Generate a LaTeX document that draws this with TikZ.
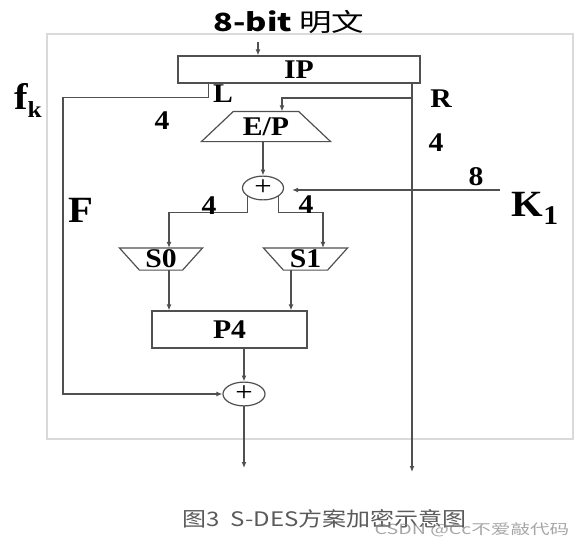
\documentclass[tikz,border=0pt]{standalone}
\usepackage{fontspec}
\setmainfont{Liberation Serif}[FakeStretch=1.1]
\newfontfamily\headfont{Noto Sans CJK SC}[FakeStretch=1.3]
\newfontfamily\capfont{Noto Sans CJK SC}[FakeStretch=1.2]
\newfontfamily\markfont{Noto Sans CJK SC}[FakeStretch=1.4]
\usetikzlibrary{arrows.meta,shapes.geometric}

\definecolor{linegray}{HTML}{505050}
\definecolor{framegray}{HTML}{DADADA}
\definecolor{capgray}{HTML}{5A5A5A}

\begin{document}
\begin{tikzpicture}[x=1pt, y=-1pt, line width=1.2pt, color=linegray,
	arr/.style={-{Latex[length=6pt,width=5pt]}},
	lab/.style={font=\fontsize{27}{27}\selectfont\bfseries, text=black, inner sep=0pt},
	biglab/.style={font=\fontsize{37}{37}\selectfont\bfseries, text=black, inner sep=0pt},
	xorop/.style={ellipse, draw, minimum width=41pt, minimum height=21pt, inner sep=0pt, text=black, font=\fontsize{28}{28}\selectfont}]
	\useasboundingbox (0,0) rectangle (582,546);

	%outer frame of f_k
	\draw[framegray, line width=1.5pt] (47,34) rectangle (573,439);

	%blocks
	\node[lab, draw, minimum width=242pt, minimum height=27pt] (ip) at (299,69.5) {IP};
	\node[lab, minimum width=128pt, minimum height=29pt] (ep) at (266,126.5) {E/P};
	\node[xorop] (xor1) at (263,188) {\raisebox{1pt}{+}};
	\node[lab, minimum width=82pt, minimum height=21pt] (sbox0) at (161,259) {S0};
	\node[lab, minimum width=83pt, minimum height=21pt] (sbox1) at (305.5,259) {S1};
	\node[lab, draw, minimum width=155pt, minimum height=37pt] (pfour) at (229.5,329.5) {P4};
	\node[xorop, minimum width=42pt, minimum height=22pt] (xor2) at (244,394) {\raisebox{1pt}{+}};

	%trapezoid outlines
	\draw (ep.south west) -- (ep.south east) -- ([xshift=-32pt]ep.north east) -- ([xshift=32pt]ep.north west) -- cycle;
	\foreach \s in {sbox0,sbox1}
		\draw (\s.north west) -- (\s.north east) -- ([xshift=-20pt]\s.south east) -- ([xshift=20pt]\s.south west) -- cycle;

	%input and outputs
	\node[font=\headfont\fontsize{25}{25}\selectfont, text=black, inner sep=0pt, anchor=base] (plain) at (289,31) {\textbf{8-bit} 明文};
	\coordinate (inlet) at (258,42);
	\draw[arr] (inlet) -- (inlet |- ip.north);
	\coordinate (rsplit) at (412,98);
	\coordinate (rout) at (412,472);
	\coordinate (fleft) at (63,394);
	\coordinate (lout) at (244,468);
	\coordinate (kin) at (500,190);

	%left half L
	\draw[arr] ([xshift=31pt]ip.south west) -- ++(0,14) -| (fleft) -- (xor2.west);
	%right half R
	\draw[arr] (rsplit |- ip.south) -- (rout);
	\draw[arr] (rsplit) -| ([xshift=16pt]ep.north);

	%round function
	\draw[arr] (ep.south -| xor1.north) -- (xor1.north);
	\draw[arr, shorten >=8pt] (kin) -- (kin -| xor1.east);
	\draw[arr] (xor1.208) -- ++(0,16) -| ([xshift=8pt]sbox0.north);
	\draw[arr] (xor1.332) -- ++(0,16) -| ([xshift=17.5pt]sbox1.north);
	\draw[arr] ([xshift=8pt]sbox0.south) -- ([xshift=8pt]sbox0.south |- pfour.north);
	\draw[arr] ([xshift=-14.5pt]sbox1.south) -- ([xshift=-14.5pt]sbox1.south |- pfour.north);
	\draw[arr] (pfour.south -| xor2.north) -- (xor2.north);
	\draw[arr] (xor2.south) -- (lout);

	%labels
	\node[lab] (lname) at (223,94) {L};
	\node[lab] (rname) at (441,99) {R};
	\node[lab] (nl) at (162,121) {4};
	\node[lab] (nr) at (436,143) {4};
	\node[lab] (nk) at (476,177) {8};
	\node[lab] (ns0) at (209,206) {4};
	\node[lab] (ns1) at (306,205) {4};
	\node[biglab] (fk) at (28,100) {f\raisebox{-8pt}{\fontsize{23}{23}\selectfont k}};
	\node[biglab] (fname) at (81,210) {F};
	\node[biglab] (kone) at (535,208) {K\raisebox{-8pt}{\fontsize{27}{27}\selectfont 1}};

	%caption and watermark
	\node[font=\capfont\fontsize{20}{20}\selectfont, text=capgray, inner sep=0pt, anchor=west] (caption) at (182,519) {图3\ \ S-DES方案加密示意图};
	\node[font=\markfont\fontsize{14}{14}\selectfont, text=gray, opacity=0.7, inner sep=0pt, anchor=west] (mark) at (374,530) {CSDN @Cc不爱敲代码};
\end{tikzpicture}
\end{document}
